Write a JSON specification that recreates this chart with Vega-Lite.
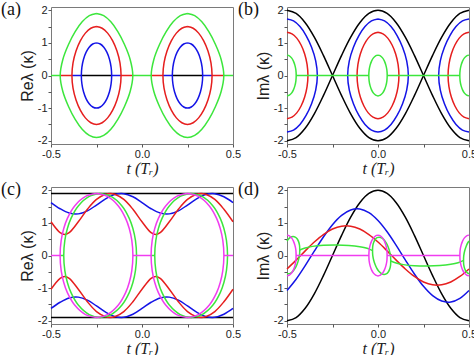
{
"$schema": "https://vega.github.io/schema/vega-lite/v6.json",
"padding": {"left": 0, "top": 0, "right": 0, "bottom": 0},
"columns": 2,
"bounds": "flush",
"spacing": {"row": 43, "column": 54},
"config": {
  "view": {"stroke": "#7a7a7a", "strokeWidth": 1},
  "axis": {"domain": false, "grid": false, "tickColor": "#555", "tickSize": 3, "labelFont": "Liberation Sans", "labelFontSize": 11, "labelColor": "#222", "labelPadding": 1, "labelOverlap": false, "labelFlush": false, "labelBound": false, "titleFontWeight": "normal", "titleColor": "#222", "titleFontSize": 16},
  "line": {"strokeWidth": 1.5, "interpolate": "catmull-rom"}
},
"datasets": {"d": [
{"p":"a","c":"1k","s":"1k-a1","o":0,"t":-0.3333,"y":0},{"p":"a","c":"1k","s":"1k-a1","o":1,"t":-0.1667,"y":0},
{"p":"a","c":"1k","s":"1k-a1b","o":0,"t":0.1667,"y":0},{"p":"a","c":"1k","s":"1k-a1b","o":1,"t":0.3333,"y":0},
{"p":"a","c":"2b","s":"2b-a2","o":0,"t":-0.385,"y":0},{"p":"a","c":"2b","s":"2b-a2","o":1,"t":-0.3333,"y":0},
{"p":"a","c":"2b","s":"2b-a3","o":0,"t":-0.1667,"y":0},{"p":"a","c":"2b","s":"2b-a3","o":1,"t":-0.115,"y":0},
{"p":"a","c":"2b","s":"2b-a4","o":0,"t":0.115,"y":0},{"p":"a","c":"2b","s":"2b-a4","o":1,"t":0.1667,"y":0},
{"p":"a","c":"2b","s":"2b-a4b","o":0,"t":0.3333,"y":0},{"p":"a","c":"2b","s":"2b-a4b","o":1,"t":0.385,"y":0},
{"p":"a","c":"2b","s":"2b-a5","o":0,"t":-0.25,"y":1},{"p":"a","c":"2b","s":"2b-a5","o":1,"t":-0.2293,"y":0.966},{"p":"a","c":"2b","s":"2b-a5","o":2,"t":-0.2098,"y":0.866},{"p":"a","c":"2b","s":"2b-a5","o":3,"t":-0.1925,"y":0.707},{"p":"a","c":"2b","s":"2b-a5","o":4,"t":-0.1787,"y":0.5},{"p":"a","c":"2b","s":"2b-a5","o":5,"t":-0.1698,"y":0.259},{"p":"a","c":"2b","s":"2b-a5","o":6,"t":-0.1667,"y":0},{"p":"a","c":"2b","s":"2b-a5","o":7,"t":-0.1698,"y":-0.259},{"p":"a","c":"2b","s":"2b-a5","o":8,"t":-0.1787,"y":-0.5},{"p":"a","c":"2b","s":"2b-a5","o":9,"t":-0.1925,"y":-0.707},{"p":"a","c":"2b","s":"2b-a5","o":10,"t":-0.2098,"y":-0.866},{"p":"a","c":"2b","s":"2b-a5","o":11,"t":-0.2293,"y":-0.966},{"p":"a","c":"2b","s":"2b-a5","o":12,"t":-0.25,"y":-1},{"p":"a","c":"2b","s":"2b-a5","o":13,"t":-0.2707,"y":-0.966},{"p":"a","c":"2b","s":"2b-a5","o":14,"t":-0.2902,"y":-0.866},{"p":"a","c":"2b","s":"2b-a5","o":15,"t":-0.3075,"y":-0.707},{"p":"a","c":"2b","s":"2b-a5","o":16,"t":-0.3213,"y":-0.5},{"p":"a","c":"2b","s":"2b-a5","o":17,"t":-0.3302,"y":-0.259},{"p":"a","c":"2b","s":"2b-a5","o":18,"t":-0.3333,"y":0},{"p":"a","c":"2b","s":"2b-a5","o":19,"t":-0.3302,"y":0.259},{"p":"a","c":"2b","s":"2b-a5","o":20,"t":-0.3213,"y":0.5},{"p":"a","c":"2b","s":"2b-a5","o":21,"t":-0.3075,"y":0.707},{"p":"a","c":"2b","s":"2b-a5","o":22,"t":-0.2902,"y":0.866},{"p":"a","c":"2b","s":"2b-a5","o":23,"t":-0.2707,"y":0.966},{"p":"a","c":"2b","s":"2b-a5","o":24,"t":-0.25,"y":1},
{"p":"a","c":"2b","s":"2b-a6","o":0,"t":0.25,"y":1},{"p":"a","c":"2b","s":"2b-a6","o":1,"t":0.2707,"y":0.966},{"p":"a","c":"2b","s":"2b-a6","o":2,"t":0.2902,"y":0.866},{"p":"a","c":"2b","s":"2b-a6","o":3,"t":0.3075,"y":0.707},{"p":"a","c":"2b","s":"2b-a6","o":4,"t":0.3213,"y":0.5},{"p":"a","c":"2b","s":"2b-a6","o":5,"t":0.3302,"y":0.259},{"p":"a","c":"2b","s":"2b-a6","o":6,"t":0.3333,"y":0},{"p":"a","c":"2b","s":"2b-a6","o":7,"t":0.3302,"y":-0.259},{"p":"a","c":"2b","s":"2b-a6","o":8,"t":0.3213,"y":-0.5},{"p":"a","c":"2b","s":"2b-a6","o":9,"t":0.3075,"y":-0.707},{"p":"a","c":"2b","s":"2b-a6","o":10,"t":0.2902,"y":-0.866},{"p":"a","c":"2b","s":"2b-a6","o":11,"t":0.2707,"y":-0.966},{"p":"a","c":"2b","s":"2b-a6","o":12,"t":0.25,"y":-1},{"p":"a","c":"2b","s":"2b-a6","o":13,"t":0.2293,"y":-0.966},{"p":"a","c":"2b","s":"2b-a6","o":14,"t":0.2098,"y":-0.866},{"p":"a","c":"2b","s":"2b-a6","o":15,"t":0.1925,"y":-0.707},{"p":"a","c":"2b","s":"2b-a6","o":16,"t":0.1787,"y":-0.5},{"p":"a","c":"2b","s":"2b-a6","o":17,"t":0.1698,"y":-0.259},{"p":"a","c":"2b","s":"2b-a6","o":18,"t":0.1667,"y":0},{"p":"a","c":"2b","s":"2b-a6","o":19,"t":0.1698,"y":0.259},{"p":"a","c":"2b","s":"2b-a6","o":20,"t":0.1787,"y":0.5},{"p":"a","c":"2b","s":"2b-a6","o":21,"t":0.1925,"y":0.707},{"p":"a","c":"2b","s":"2b-a6","o":22,"t":0.2098,"y":0.866},{"p":"a","c":"2b","s":"2b-a6","o":23,"t":0.2293,"y":0.966},{"p":"a","c":"2b","s":"2b-a6","o":24,"t":0.25,"y":1},
{"p":"a","c":"3r","s":"3r-a7","o":0,"t":-0.4495,"y":0},{"p":"a","c":"3r","s":"3r-a7","o":1,"t":-0.385,"y":0},
{"p":"a","c":"3r","s":"3r-a8","o":0,"t":-0.115,"y":0},{"p":"a","c":"3r","s":"3r-a8","o":1,"t":-0.0505,"y":0},
{"p":"a","c":"3r","s":"3r-a9","o":0,"t":0.0505,"y":0},{"p":"a","c":"3r","s":"3r-a9","o":1,"t":0.115,"y":0},
{"p":"a","c":"3r","s":"3r-a9b","o":0,"t":0.385,"y":0},{"p":"a","c":"3r","s":"3r-a9b","o":1,"t":0.4495,"y":0},
{"p":"a","c":"3r","s":"3r-a10","o":0,"t":-0.25,"y":1.5},{"p":"a","c":"3r","s":"3r-a10","o":1,"t":-0.2189,"y":1.449},{"p":"a","c":"3r","s":"3r-a10","o":2,"t":-0.1888,"y":1.299},{"p":"a","c":"3r","s":"3r-a10","o":3,"t":-0.161,"y":1.061},{"p":"a","c":"3r","s":"3r-a10","o":4,"t":-0.1375,"y":0.75},{"p":"a","c":"3r","s":"3r-a10","o":5,"t":-0.121,"y":0.388},{"p":"a","c":"3r","s":"3r-a10","o":6,"t":-0.115,"y":0},{"p":"a","c":"3r","s":"3r-a10","o":7,"t":-0.121,"y":-0.388},{"p":"a","c":"3r","s":"3r-a10","o":8,"t":-0.1375,"y":-0.75},{"p":"a","c":"3r","s":"3r-a10","o":9,"t":-0.161,"y":-1.061},{"p":"a","c":"3r","s":"3r-a10","o":10,"t":-0.1888,"y":-1.299},{"p":"a","c":"3r","s":"3r-a10","o":11,"t":-0.2189,"y":-1.449},{"p":"a","c":"3r","s":"3r-a10","o":12,"t":-0.25,"y":-1.5},{"p":"a","c":"3r","s":"3r-a10","o":13,"t":-0.2811,"y":-1.449},{"p":"a","c":"3r","s":"3r-a10","o":14,"t":-0.3112,"y":-1.299},{"p":"a","c":"3r","s":"3r-a10","o":15,"t":-0.339,"y":-1.061},{"p":"a","c":"3r","s":"3r-a10","o":16,"t":-0.3625,"y":-0.75},{"p":"a","c":"3r","s":"3r-a10","o":17,"t":-0.379,"y":-0.388},{"p":"a","c":"3r","s":"3r-a10","o":18,"t":-0.385,"y":0},{"p":"a","c":"3r","s":"3r-a10","o":19,"t":-0.379,"y":0.388},{"p":"a","c":"3r","s":"3r-a10","o":20,"t":-0.3625,"y":0.75},{"p":"a","c":"3r","s":"3r-a10","o":21,"t":-0.339,"y":1.061},{"p":"a","c":"3r","s":"3r-a10","o":22,"t":-0.3112,"y":1.299},{"p":"a","c":"3r","s":"3r-a10","o":23,"t":-0.2811,"y":1.449},{"p":"a","c":"3r","s":"3r-a10","o":24,"t":-0.25,"y":1.5},
{"p":"a","c":"3r","s":"3r-a11","o":0,"t":0.25,"y":1.5},{"p":"a","c":"3r","s":"3r-a11","o":1,"t":0.2811,"y":1.449},{"p":"a","c":"3r","s":"3r-a11","o":2,"t":0.3112,"y":1.299},{"p":"a","c":"3r","s":"3r-a11","o":3,"t":0.339,"y":1.061},{"p":"a","c":"3r","s":"3r-a11","o":4,"t":0.3625,"y":0.75},{"p":"a","c":"3r","s":"3r-a11","o":5,"t":0.379,"y":0.388},{"p":"a","c":"3r","s":"3r-a11","o":6,"t":0.385,"y":0},{"p":"a","c":"3r","s":"3r-a11","o":7,"t":0.379,"y":-0.388},{"p":"a","c":"3r","s":"3r-a11","o":8,"t":0.3625,"y":-0.75},{"p":"a","c":"3r","s":"3r-a11","o":9,"t":0.339,"y":-1.061},{"p":"a","c":"3r","s":"3r-a11","o":10,"t":0.3112,"y":-1.299},{"p":"a","c":"3r","s":"3r-a11","o":11,"t":0.2811,"y":-1.449},{"p":"a","c":"3r","s":"3r-a11","o":12,"t":0.25,"y":-1.5},{"p":"a","c":"3r","s":"3r-a11","o":13,"t":0.2189,"y":-1.449},{"p":"a","c":"3r","s":"3r-a11","o":14,"t":0.1888,"y":-1.299},{"p":"a","c":"3r","s":"3r-a11","o":15,"t":0.161,"y":-1.061},{"p":"a","c":"3r","s":"3r-a11","o":16,"t":0.1375,"y":-0.75},{"p":"a","c":"3r","s":"3r-a11","o":17,"t":0.121,"y":-0.388},{"p":"a","c":"3r","s":"3r-a11","o":18,"t":0.115,"y":0},{"p":"a","c":"3r","s":"3r-a11","o":19,"t":0.121,"y":0.388},{"p":"a","c":"3r","s":"3r-a11","o":20,"t":0.1375,"y":0.75},{"p":"a","c":"3r","s":"3r-a11","o":21,"t":0.161,"y":1.061},{"p":"a","c":"3r","s":"3r-a11","o":22,"t":0.1888,"y":1.299},{"p":"a","c":"3r","s":"3r-a11","o":23,"t":0.2189,"y":1.449},{"p":"a","c":"3r","s":"3r-a11","o":24,"t":0.25,"y":1.5},
{"p":"a","c":"4g","s":"4g-a12","o":0,"t":-0.5,"y":0},{"p":"a","c":"4g","s":"4g-a12","o":1,"t":-0.4495,"y":0},
{"p":"a","c":"4g","s":"4g-a13","o":0,"t":-0.0505,"y":0},{"p":"a","c":"4g","s":"4g-a13","o":1,"t":0.0505,"y":0},
{"p":"a","c":"4g","s":"4g-a14","o":0,"t":0.4495,"y":0},{"p":"a","c":"4g","s":"4g-a14","o":1,"t":0.5,"y":0},
{"p":"a","c":"4g","s":"4g-a15","o":0,"t":-0.25,"y":1.9},{"p":"a","c":"4g","s":"4g-a15","o":1,"t":-0.2104,"y":1.835},{"p":"a","c":"4g","s":"4g-a15","o":2,"t":-0.1712,"y":1.645},{"p":"a","c":"4g","s":"4g-a15","o":3,"t":-0.1328,"y":1.344},{"p":"a","c":"4g","s":"4g-a15","o":4,"t":-0.0962,"y":0.95},{"p":"a","c":"4g","s":"4g-a15","o":5,"t":-0.0651,"y":0.492},{"p":"a","c":"4g","s":"4g-a15","o":6,"t":-0.0505,"y":0},{"p":"a","c":"4g","s":"4g-a15","o":7,"t":-0.0651,"y":-0.492},{"p":"a","c":"4g","s":"4g-a15","o":8,"t":-0.0962,"y":-0.95},{"p":"a","c":"4g","s":"4g-a15","o":9,"t":-0.1328,"y":-1.344},{"p":"a","c":"4g","s":"4g-a15","o":10,"t":-0.1712,"y":-1.645},{"p":"a","c":"4g","s":"4g-a15","o":11,"t":-0.2104,"y":-1.835},{"p":"a","c":"4g","s":"4g-a15","o":12,"t":-0.25,"y":-1.9},{"p":"a","c":"4g","s":"4g-a15","o":13,"t":-0.2896,"y":-1.835},{"p":"a","c":"4g","s":"4g-a15","o":14,"t":-0.3288,"y":-1.645},{"p":"a","c":"4g","s":"4g-a15","o":15,"t":-0.3672,"y":-1.344},{"p":"a","c":"4g","s":"4g-a15","o":16,"t":-0.4038,"y":-0.95},{"p":"a","c":"4g","s":"4g-a15","o":17,"t":-0.4349,"y":-0.492},{"p":"a","c":"4g","s":"4g-a15","o":18,"t":-0.4495,"y":0},{"p":"a","c":"4g","s":"4g-a15","o":19,"t":-0.4349,"y":0.492},{"p":"a","c":"4g","s":"4g-a15","o":20,"t":-0.4038,"y":0.95},{"p":"a","c":"4g","s":"4g-a15","o":21,"t":-0.3672,"y":1.344},{"p":"a","c":"4g","s":"4g-a15","o":22,"t":-0.3288,"y":1.645},{"p":"a","c":"4g","s":"4g-a15","o":23,"t":-0.2896,"y":1.835},{"p":"a","c":"4g","s":"4g-a15","o":24,"t":-0.25,"y":1.9},
{"p":"a","c":"4g","s":"4g-a16","o":0,"t":0.25,"y":1.9},{"p":"a","c":"4g","s":"4g-a16","o":1,"t":0.2896,"y":1.835},{"p":"a","c":"4g","s":"4g-a16","o":2,"t":0.3288,"y":1.645},{"p":"a","c":"4g","s":"4g-a16","o":3,"t":0.3672,"y":1.344},{"p":"a","c":"4g","s":"4g-a16","o":4,"t":0.4038,"y":0.95},{"p":"a","c":"4g","s":"4g-a16","o":5,"t":0.4349,"y":0.492},{"p":"a","c":"4g","s":"4g-a16","o":6,"t":0.4495,"y":0},{"p":"a","c":"4g","s":"4g-a16","o":7,"t":0.4349,"y":-0.492},{"p":"a","c":"4g","s":"4g-a16","o":8,"t":0.4038,"y":-0.95},{"p":"a","c":"4g","s":"4g-a16","o":9,"t":0.3672,"y":-1.344},{"p":"a","c":"4g","s":"4g-a16","o":10,"t":0.3288,"y":-1.645},{"p":"a","c":"4g","s":"4g-a16","o":11,"t":0.2896,"y":-1.835},{"p":"a","c":"4g","s":"4g-a16","o":12,"t":0.25,"y":-1.9},{"p":"a","c":"4g","s":"4g-a16","o":13,"t":0.2104,"y":-1.835},{"p":"a","c":"4g","s":"4g-a16","o":14,"t":0.1712,"y":-1.645},{"p":"a","c":"4g","s":"4g-a16","o":15,"t":0.1328,"y":-1.344},{"p":"a","c":"4g","s":"4g-a16","o":16,"t":0.0962,"y":-0.95},{"p":"a","c":"4g","s":"4g-a16","o":17,"t":0.0651,"y":-0.492},{"p":"a","c":"4g","s":"4g-a16","o":18,"t":0.0505,"y":0},{"p":"a","c":"4g","s":"4g-a16","o":19,"t":0.0651,"y":0.492},{"p":"a","c":"4g","s":"4g-a16","o":20,"t":0.0962,"y":0.95},{"p":"a","c":"4g","s":"4g-a16","o":21,"t":0.1328,"y":1.344},{"p":"a","c":"4g","s":"4g-a16","o":22,"t":0.1712,"y":1.645},{"p":"a","c":"4g","s":"4g-a16","o":23,"t":0.2104,"y":1.835},{"p":"a","c":"4g","s":"4g-a16","o":24,"t":0.25,"y":1.9},

{"p":"b","c":"1k","s":"1k-b1","o":0,"t":-0.5,"y":-2},{"p":"b","c":"1k","s":"1k-b1","o":1,"t":-0.45,"y":-1.902},{"p":"b","c":"1k","s":"1k-b1","o":2,"t":-0.4,"y":-1.618},{"p":"b","c":"1k","s":"1k-b1","o":3,"t":-0.35,"y":-1.176},{"p":"b","c":"1k","s":"1k-b1","o":4,"t":-0.3,"y":-0.618},{"p":"b","c":"1k","s":"1k-b1","o":5,"t":-0.25,"y":0},{"p":"b","c":"1k","s":"1k-b1","o":6,"t":-0.2,"y":0.618},{"p":"b","c":"1k","s":"1k-b1","o":7,"t":-0.15,"y":1.176},{"p":"b","c":"1k","s":"1k-b1","o":8,"t":-0.1,"y":1.618},{"p":"b","c":"1k","s":"1k-b1","o":9,"t":-0.05,"y":1.902},{"p":"b","c":"1k","s":"1k-b1","o":10,"t":0,"y":2},{"p":"b","c":"1k","s":"1k-b1","o":11,"t":0.05,"y":1.902},{"p":"b","c":"1k","s":"1k-b1","o":12,"t":0.1,"y":1.618},{"p":"b","c":"1k","s":"1k-b1","o":13,"t":0.15,"y":1.176},{"p":"b","c":"1k","s":"1k-b1","o":14,"t":0.2,"y":0.618},{"p":"b","c":"1k","s":"1k-b1","o":15,"t":0.25,"y":0},{"p":"b","c":"1k","s":"1k-b1","o":16,"t":0.3,"y":-0.618},{"p":"b","c":"1k","s":"1k-b1","o":17,"t":0.35,"y":-1.176},{"p":"b","c":"1k","s":"1k-b1","o":18,"t":0.4,"y":-1.618},{"p":"b","c":"1k","s":"1k-b1","o":19,"t":0.45,"y":-1.902},{"p":"b","c":"1k","s":"1k-b1","o":20,"t":0.5,"y":-2},
{"p":"b","c":"1k","s":"1k-b2","o":0,"t":-0.5,"y":2},{"p":"b","c":"1k","s":"1k-b2","o":1,"t":-0.45,"y":1.902},{"p":"b","c":"1k","s":"1k-b2","o":2,"t":-0.4,"y":1.618},{"p":"b","c":"1k","s":"1k-b2","o":3,"t":-0.35,"y":1.176},{"p":"b","c":"1k","s":"1k-b2","o":4,"t":-0.3,"y":0.618},{"p":"b","c":"1k","s":"1k-b2","o":5,"t":-0.25,"y":0},{"p":"b","c":"1k","s":"1k-b2","o":6,"t":-0.2,"y":-0.618},{"p":"b","c":"1k","s":"1k-b2","o":7,"t":-0.15,"y":-1.176},{"p":"b","c":"1k","s":"1k-b2","o":8,"t":-0.1,"y":-1.618},{"p":"b","c":"1k","s":"1k-b2","o":9,"t":-0.05,"y":-1.902},{"p":"b","c":"1k","s":"1k-b2","o":10,"t":0,"y":-2},{"p":"b","c":"1k","s":"1k-b2","o":11,"t":0.05,"y":-1.902},{"p":"b","c":"1k","s":"1k-b2","o":12,"t":0.1,"y":-1.618},{"p":"b","c":"1k","s":"1k-b2","o":13,"t":0.15,"y":-1.176},{"p":"b","c":"1k","s":"1k-b2","o":14,"t":0.2,"y":-0.618},{"p":"b","c":"1k","s":"1k-b2","o":15,"t":0.25,"y":0},{"p":"b","c":"1k","s":"1k-b2","o":16,"t":0.3,"y":0.618},{"p":"b","c":"1k","s":"1k-b2","o":17,"t":0.35,"y":1.176},{"p":"b","c":"1k","s":"1k-b2","o":18,"t":0.4,"y":1.618},{"p":"b","c":"1k","s":"1k-b2","o":19,"t":0.45,"y":1.902},{"p":"b","c":"1k","s":"1k-b2","o":20,"t":0.5,"y":2},
{"p":"b","c":"2b","s":"2b-b3","o":0,"t":0,"y":1.732},{"p":"b","c":"2b","s":"2b-b3","o":1,"t":0.036,"y":1.673},{"p":"b","c":"2b","s":"2b-b3","o":2,"t":0.0713,"y":1.5},{"p":"b","c":"2b","s":"2b-b3","o":3,"t":0.1049,"y":1.225},{"p":"b","c":"2b","s":"2b-b3","o":4,"t":0.135,"y":0.866},{"p":"b","c":"2b","s":"2b-b3","o":5,"t":0.1577,"y":0.448},{"p":"b","c":"2b","s":"2b-b3","o":6,"t":0.1667,"y":0},{"p":"b","c":"2b","s":"2b-b3","o":7,"t":0.1577,"y":-0.448},{"p":"b","c":"2b","s":"2b-b3","o":8,"t":0.135,"y":-0.866},{"p":"b","c":"2b","s":"2b-b3","o":9,"t":0.1049,"y":-1.225},{"p":"b","c":"2b","s":"2b-b3","o":10,"t":0.0713,"y":-1.5},{"p":"b","c":"2b","s":"2b-b3","o":11,"t":0.036,"y":-1.673},{"p":"b","c":"2b","s":"2b-b3","o":12,"t":0,"y":-1.732},{"p":"b","c":"2b","s":"2b-b3","o":13,"t":-0.036,"y":-1.673},{"p":"b","c":"2b","s":"2b-b3","o":14,"t":-0.0713,"y":-1.5},{"p":"b","c":"2b","s":"2b-b3","o":15,"t":-0.1049,"y":-1.225},{"p":"b","c":"2b","s":"2b-b3","o":16,"t":-0.135,"y":-0.866},{"p":"b","c":"2b","s":"2b-b3","o":17,"t":-0.1577,"y":-0.448},{"p":"b","c":"2b","s":"2b-b3","o":18,"t":-0.1667,"y":0},{"p":"b","c":"2b","s":"2b-b3","o":19,"t":-0.1577,"y":0.448},{"p":"b","c":"2b","s":"2b-b3","o":20,"t":-0.135,"y":0.866},{"p":"b","c":"2b","s":"2b-b3","o":21,"t":-0.1049,"y":1.225},{"p":"b","c":"2b","s":"2b-b3","o":22,"t":-0.0713,"y":1.5},{"p":"b","c":"2b","s":"2b-b3","o":23,"t":-0.036,"y":1.673},{"p":"b","c":"2b","s":"2b-b3","o":24,"t":0,"y":1.732},
{"p":"b","c":"2b","s":"2b-b4","o":0,"t":0.5,"y":1.732},{"p":"b","c":"2b","s":"2b-b4","o":1,"t":0.464,"y":1.673},{"p":"b","c":"2b","s":"2b-b4","o":2,"t":0.4287,"y":1.5},{"p":"b","c":"2b","s":"2b-b4","o":3,"t":0.3951,"y":1.225},{"p":"b","c":"2b","s":"2b-b4","o":4,"t":0.365,"y":0.866},{"p":"b","c":"2b","s":"2b-b4","o":5,"t":0.3423,"y":0.448},{"p":"b","c":"2b","s":"2b-b4","o":6,"t":0.3333,"y":0},{"p":"b","c":"2b","s":"2b-b4","o":7,"t":0.3423,"y":-0.448},{"p":"b","c":"2b","s":"2b-b4","o":8,"t":0.365,"y":-0.866},{"p":"b","c":"2b","s":"2b-b4","o":9,"t":0.3951,"y":-1.225},{"p":"b","c":"2b","s":"2b-b4","o":10,"t":0.4287,"y":-1.5},{"p":"b","c":"2b","s":"2b-b4","o":11,"t":0.464,"y":-1.673},{"p":"b","c":"2b","s":"2b-b4","o":12,"t":0.5,"y":-1.732},
{"p":"b","c":"2b","s":"2b-b5","o":0,"t":-0.5,"y":1.732},{"p":"b","c":"2b","s":"2b-b5","o":1,"t":-0.464,"y":1.673},{"p":"b","c":"2b","s":"2b-b5","o":2,"t":-0.4287,"y":1.5},{"p":"b","c":"2b","s":"2b-b5","o":3,"t":-0.3951,"y":1.225},{"p":"b","c":"2b","s":"2b-b5","o":4,"t":-0.365,"y":0.866},{"p":"b","c":"2b","s":"2b-b5","o":5,"t":-0.3423,"y":0.448},{"p":"b","c":"2b","s":"2b-b5","o":6,"t":-0.3333,"y":0},{"p":"b","c":"2b","s":"2b-b5","o":7,"t":-0.3423,"y":-0.448},{"p":"b","c":"2b","s":"2b-b5","o":8,"t":-0.365,"y":-0.866},{"p":"b","c":"2b","s":"2b-b5","o":9,"t":-0.3951,"y":-1.225},{"p":"b","c":"2b","s":"2b-b5","o":10,"t":-0.4287,"y":-1.5},{"p":"b","c":"2b","s":"2b-b5","o":11,"t":-0.464,"y":-1.673},{"p":"b","c":"2b","s":"2b-b5","o":12,"t":-0.5,"y":-1.732},
{"p":"b","c":"3r","s":"3r-b8","o":0,"t":0,"y":1.323},{"p":"b","c":"3r","s":"3r-b8","o":1,"t":0.0274,"y":1.278},{"p":"b","c":"3r","s":"3r-b8","o":2,"t":0.0536,"y":1.146},{"p":"b","c":"3r","s":"3r-b8","o":3,"t":0.0774,"y":0.935},{"p":"b","c":"3r","s":"3r-b8","o":4,"t":0.0971,"y":0.661},{"p":"b","c":"3r","s":"3r-b8","o":5,"t":0.1103,"y":0.342},{"p":"b","c":"3r","s":"3r-b8","o":6,"t":0.115,"y":0},{"p":"b","c":"3r","s":"3r-b8","o":7,"t":0.1103,"y":-0.342},{"p":"b","c":"3r","s":"3r-b8","o":8,"t":0.0971,"y":-0.661},{"p":"b","c":"3r","s":"3r-b8","o":9,"t":0.0774,"y":-0.935},{"p":"b","c":"3r","s":"3r-b8","o":10,"t":0.0536,"y":-1.146},{"p":"b","c":"3r","s":"3r-b8","o":11,"t":0.0274,"y":-1.278},{"p":"b","c":"3r","s":"3r-b8","o":12,"t":0,"y":-1.323},{"p":"b","c":"3r","s":"3r-b8","o":13,"t":-0.0274,"y":-1.278},{"p":"b","c":"3r","s":"3r-b8","o":14,"t":-0.0536,"y":-1.146},{"p":"b","c":"3r","s":"3r-b8","o":15,"t":-0.0774,"y":-0.935},{"p":"b","c":"3r","s":"3r-b8","o":16,"t":-0.0971,"y":-0.661},{"p":"b","c":"3r","s":"3r-b8","o":17,"t":-0.1103,"y":-0.342},{"p":"b","c":"3r","s":"3r-b8","o":18,"t":-0.115,"y":0},{"p":"b","c":"3r","s":"3r-b8","o":19,"t":-0.1103,"y":0.342},{"p":"b","c":"3r","s":"3r-b8","o":20,"t":-0.0971,"y":0.661},{"p":"b","c":"3r","s":"3r-b8","o":21,"t":-0.0774,"y":0.935},{"p":"b","c":"3r","s":"3r-b8","o":22,"t":-0.0536,"y":1.146},{"p":"b","c":"3r","s":"3r-b8","o":23,"t":-0.0274,"y":1.278},{"p":"b","c":"3r","s":"3r-b8","o":24,"t":0,"y":1.323},
{"p":"b","c":"3r","s":"3r-b9","o":0,"t":0.5,"y":1.323},{"p":"b","c":"3r","s":"3r-b9","o":1,"t":0.4726,"y":1.278},{"p":"b","c":"3r","s":"3r-b9","o":2,"t":0.4464,"y":1.146},{"p":"b","c":"3r","s":"3r-b9","o":3,"t":0.4226,"y":0.935},{"p":"b","c":"3r","s":"3r-b9","o":4,"t":0.4029,"y":0.661},{"p":"b","c":"3r","s":"3r-b9","o":5,"t":0.3897,"y":0.342},{"p":"b","c":"3r","s":"3r-b9","o":6,"t":0.385,"y":0},{"p":"b","c":"3r","s":"3r-b9","o":7,"t":0.3897,"y":-0.342},{"p":"b","c":"3r","s":"3r-b9","o":8,"t":0.4029,"y":-0.661},{"p":"b","c":"3r","s":"3r-b9","o":9,"t":0.4226,"y":-0.935},{"p":"b","c":"3r","s":"3r-b9","o":10,"t":0.4464,"y":-1.146},{"p":"b","c":"3r","s":"3r-b9","o":11,"t":0.4726,"y":-1.278},{"p":"b","c":"3r","s":"3r-b9","o":12,"t":0.5,"y":-1.323},
{"p":"b","c":"3r","s":"3r-b10","o":0,"t":-0.5,"y":1.323},{"p":"b","c":"3r","s":"3r-b10","o":1,"t":-0.4726,"y":1.278},{"p":"b","c":"3r","s":"3r-b10","o":2,"t":-0.4464,"y":1.146},{"p":"b","c":"3r","s":"3r-b10","o":3,"t":-0.4226,"y":0.935},{"p":"b","c":"3r","s":"3r-b10","o":4,"t":-0.4029,"y":0.661},{"p":"b","c":"3r","s":"3r-b10","o":5,"t":-0.3897,"y":0.342},{"p":"b","c":"3r","s":"3r-b10","o":6,"t":-0.385,"y":0},{"p":"b","c":"3r","s":"3r-b10","o":7,"t":-0.3897,"y":-0.342},{"p":"b","c":"3r","s":"3r-b10","o":8,"t":-0.4029,"y":-0.661},{"p":"b","c":"3r","s":"3r-b10","o":9,"t":-0.4226,"y":-0.935},{"p":"b","c":"3r","s":"3r-b10","o":10,"t":-0.4464,"y":-1.146},{"p":"b","c":"3r","s":"3r-b10","o":11,"t":-0.4726,"y":-1.278},{"p":"b","c":"3r","s":"3r-b10","o":12,"t":-0.5,"y":-1.323},
{"p":"b","c":"4g","s":"4g-b13","o":0,"t":0,"y":0.625},{"p":"b","c":"4g","s":"4g-b13","o":1,"t":0.0129,"y":0.603},{"p":"b","c":"4g","s":"4g-b13","o":2,"t":0.025,"y":0.541},{"p":"b","c":"4g","s":"4g-b13","o":3,"t":0.0354,"y":0.442},{"p":"b","c":"4g","s":"4g-b13","o":4,"t":0.0436,"y":0.312},{"p":"b","c":"4g","s":"4g-b13","o":5,"t":0.0488,"y":0.162},{"p":"b","c":"4g","s":"4g-b13","o":6,"t":0.0505,"y":0},{"p":"b","c":"4g","s":"4g-b13","o":7,"t":0.0488,"y":-0.162},{"p":"b","c":"4g","s":"4g-b13","o":8,"t":0.0436,"y":-0.312},{"p":"b","c":"4g","s":"4g-b13","o":9,"t":0.0354,"y":-0.442},{"p":"b","c":"4g","s":"4g-b13","o":10,"t":0.025,"y":-0.541},{"p":"b","c":"4g","s":"4g-b13","o":11,"t":0.0129,"y":-0.603},{"p":"b","c":"4g","s":"4g-b13","o":12,"t":0,"y":-0.625},{"p":"b","c":"4g","s":"4g-b13","o":13,"t":-0.0129,"y":-0.603},{"p":"b","c":"4g","s":"4g-b13","o":14,"t":-0.025,"y":-0.541},{"p":"b","c":"4g","s":"4g-b13","o":15,"t":-0.0354,"y":-0.442},{"p":"b","c":"4g","s":"4g-b13","o":16,"t":-0.0436,"y":-0.312},{"p":"b","c":"4g","s":"4g-b13","o":17,"t":-0.0488,"y":-0.162},{"p":"b","c":"4g","s":"4g-b13","o":18,"t":-0.0505,"y":0},{"p":"b","c":"4g","s":"4g-b13","o":19,"t":-0.0488,"y":0.162},{"p":"b","c":"4g","s":"4g-b13","o":20,"t":-0.0436,"y":0.312},{"p":"b","c":"4g","s":"4g-b13","o":21,"t":-0.0354,"y":0.442},{"p":"b","c":"4g","s":"4g-b13","o":22,"t":-0.025,"y":0.541},{"p":"b","c":"4g","s":"4g-b13","o":23,"t":-0.0129,"y":0.603},{"p":"b","c":"4g","s":"4g-b13","o":24,"t":0,"y":0.625},
{"p":"b","c":"4g","s":"4g-b14","o":0,"t":0.5,"y":0.625},{"p":"b","c":"4g","s":"4g-b14","o":1,"t":0.4871,"y":0.603},{"p":"b","c":"4g","s":"4g-b14","o":2,"t":0.475,"y":0.541},{"p":"b","c":"4g","s":"4g-b14","o":3,"t":0.4646,"y":0.442},{"p":"b","c":"4g","s":"4g-b14","o":4,"t":0.4564,"y":0.312},{"p":"b","c":"4g","s":"4g-b14","o":5,"t":0.4512,"y":0.162},{"p":"b","c":"4g","s":"4g-b14","o":6,"t":0.4495,"y":0},{"p":"b","c":"4g","s":"4g-b14","o":7,"t":0.4512,"y":-0.162},{"p":"b","c":"4g","s":"4g-b14","o":8,"t":0.4564,"y":-0.312},{"p":"b","c":"4g","s":"4g-b14","o":9,"t":0.4646,"y":-0.442},{"p":"b","c":"4g","s":"4g-b14","o":10,"t":0.475,"y":-0.541},{"p":"b","c":"4g","s":"4g-b14","o":11,"t":0.4871,"y":-0.603},{"p":"b","c":"4g","s":"4g-b14","o":12,"t":0.5,"y":-0.625},
{"p":"b","c":"4g","s":"4g-b15","o":0,"t":-0.5,"y":0.625},{"p":"b","c":"4g","s":"4g-b15","o":1,"t":-0.4871,"y":0.603},{"p":"b","c":"4g","s":"4g-b15","o":2,"t":-0.475,"y":0.541},{"p":"b","c":"4g","s":"4g-b15","o":3,"t":-0.4646,"y":0.442},{"p":"b","c":"4g","s":"4g-b15","o":4,"t":-0.4564,"y":0.312},{"p":"b","c":"4g","s":"4g-b15","o":5,"t":-0.4512,"y":0.162},{"p":"b","c":"4g","s":"4g-b15","o":6,"t":-0.4495,"y":0},{"p":"b","c":"4g","s":"4g-b15","o":7,"t":-0.4512,"y":-0.162},{"p":"b","c":"4g","s":"4g-b15","o":8,"t":-0.4564,"y":-0.312},{"p":"b","c":"4g","s":"4g-b15","o":9,"t":-0.4646,"y":-0.442},{"p":"b","c":"4g","s":"4g-b15","o":10,"t":-0.475,"y":-0.541},{"p":"b","c":"4g","s":"4g-b15","o":11,"t":-0.4871,"y":-0.603},{"p":"b","c":"4g","s":"4g-b15","o":12,"t":-0.5,"y":-0.625},
{"p":"b","c":"4g","s":"4g-b16","o":0,"t":-0.4495,"y":0},{"p":"b","c":"4g","s":"4g-b16","o":1,"t":-0.0505,"y":0},
{"p":"b","c":"4g","s":"4g-b17","o":0,"t":0.0505,"y":0},{"p":"b","c":"4g","s":"4g-b17","o":1,"t":0.4495,"y":0},

{"p":"c","c":"1k","s":"1k-c1","o":0,"t":-0.5,"y":1.9},{"p":"c","c":"1k","s":"1k-c1","o":1,"t":0.5,"y":1.9},
{"p":"c","c":"1k","s":"1k-c2","o":0,"t":-0.5,"y":-1.9},{"p":"c","c":"1k","s":"1k-c2","o":1,"t":0.5,"y":-1.9},
{"p":"c","c":"2b","s":"2b-c3","o":0,"t":-0.5,"y":1.624},{"p":"c","c":"2b","s":"2b-c3","o":1,"t":-0.45,"y":1.433},{"p":"c","c":"2b","s":"2b-c3","o":2,"t":-0.4,"y":1.3},{"p":"c","c":"2b","s":"2b-c3","o":3,"t":-0.35,"y":1.276},{"p":"c","c":"2b","s":"2b-c3","o":4,"t":-0.3,"y":1.369},{"p":"c","c":"2b","s":"2b-c3","o":5,"t":-0.25,"y":1.546},{"p":"c","c":"2b","s":"2b-c3","o":6,"t":-0.2,"y":1.737},{"p":"c","c":"2b","s":"2b-c3","o":7,"t":-0.15,"y":1.87},{"p":"c","c":"2b","s":"2b-c3","o":8,"t":-0.1,"y":1.894},{"p":"c","c":"2b","s":"2b-c3","o":9,"t":-0.05,"y":1.801},{"p":"c","c":"2b","s":"2b-c3","o":10,"t":0,"y":1.624},{"p":"c","c":"2b","s":"2b-c3","o":11,"t":0.05,"y":1.433},{"p":"c","c":"2b","s":"2b-c3","o":12,"t":0.1,"y":1.3},{"p":"c","c":"2b","s":"2b-c3","o":13,"t":0.15,"y":1.276},{"p":"c","c":"2b","s":"2b-c3","o":14,"t":0.2,"y":1.369},{"p":"c","c":"2b","s":"2b-c3","o":15,"t":0.25,"y":1.546},{"p":"c","c":"2b","s":"2b-c3","o":16,"t":0.3,"y":1.737},{"p":"c","c":"2b","s":"2b-c3","o":17,"t":0.35,"y":1.87},{"p":"c","c":"2b","s":"2b-c3","o":18,"t":0.4,"y":1.894},{"p":"c","c":"2b","s":"2b-c3","o":19,"t":0.45,"y":1.801},{"p":"c","c":"2b","s":"2b-c3","o":20,"t":0.5,"y":1.624},
{"p":"c","c":"2b","s":"2b-c4","o":0,"t":-0.5,"y":-1.624},{"p":"c","c":"2b","s":"2b-c4","o":1,"t":-0.45,"y":-1.433},{"p":"c","c":"2b","s":"2b-c4","o":2,"t":-0.4,"y":-1.3},{"p":"c","c":"2b","s":"2b-c4","o":3,"t":-0.35,"y":-1.276},{"p":"c","c":"2b","s":"2b-c4","o":4,"t":-0.3,"y":-1.369},{"p":"c","c":"2b","s":"2b-c4","o":5,"t":-0.25,"y":-1.546},{"p":"c","c":"2b","s":"2b-c4","o":6,"t":-0.2,"y":-1.737},{"p":"c","c":"2b","s":"2b-c4","o":7,"t":-0.15,"y":-1.87},{"p":"c","c":"2b","s":"2b-c4","o":8,"t":-0.1,"y":-1.894},{"p":"c","c":"2b","s":"2b-c4","o":9,"t":-0.05,"y":-1.801},{"p":"c","c":"2b","s":"2b-c4","o":10,"t":0,"y":-1.624},{"p":"c","c":"2b","s":"2b-c4","o":11,"t":0.05,"y":-1.433},{"p":"c","c":"2b","s":"2b-c4","o":12,"t":0.1,"y":-1.3},{"p":"c","c":"2b","s":"2b-c4","o":13,"t":0.15,"y":-1.276},{"p":"c","c":"2b","s":"2b-c4","o":14,"t":0.2,"y":-1.369},{"p":"c","c":"2b","s":"2b-c4","o":15,"t":0.25,"y":-1.546},{"p":"c","c":"2b","s":"2b-c4","o":16,"t":0.3,"y":-1.737},{"p":"c","c":"2b","s":"2b-c4","o":17,"t":0.35,"y":-1.87},{"p":"c","c":"2b","s":"2b-c4","o":18,"t":0.4,"y":-1.894},{"p":"c","c":"2b","s":"2b-c4","o":19,"t":0.45,"y":-1.801},{"p":"c","c":"2b","s":"2b-c4","o":20,"t":0.5,"y":-1.624},
{"p":"c","c":"3r","s":"3r-c5","o":0,"t":-0.5,"y":1.034},{"p":"c","c":"3r","s":"3r-c5","o":1,"t":-0.45,"y":0.699},{"p":"c","c":"3r","s":"3r-c5","o":2,"t":-0.425,"y":0.64},{"p":"c","c":"3r","s":"3r-c5","o":3,"t":-0.4,"y":0.699},{"p":"c","c":"3r","s":"3r-c5","o":4,"t":-0.35,"y":1.034},{"p":"c","c":"3r","s":"3r-c5","o":5,"t":-0.3,"y":1.418},{"p":"c","c":"3r","s":"3r-c5","o":6,"t":-0.25,"y":1.718},{"p":"c","c":"3r","s":"3r-c5","o":7,"t":-0.2,"y":1.879},{"p":"c","c":"3r","s":"3r-c5","o":8,"t":-0.175,"y":1.9},{"p":"c","c":"3r","s":"3r-c5","o":9,"t":-0.15,"y":1.879},{"p":"c","c":"3r","s":"3r-c5","o":10,"t":-0.1,"y":1.718},{"p":"c","c":"3r","s":"3r-c5","o":11,"t":-0.05,"y":1.418},{"p":"c","c":"3r","s":"3r-c5","o":12,"t":0,"y":1.034},{"p":"c","c":"3r","s":"3r-c5","o":13,"t":0.05,"y":0.699},{"p":"c","c":"3r","s":"3r-c5","o":14,"t":0.075,"y":0.64},{"p":"c","c":"3r","s":"3r-c5","o":15,"t":0.1,"y":0.699},{"p":"c","c":"3r","s":"3r-c5","o":16,"t":0.15,"y":1.034},{"p":"c","c":"3r","s":"3r-c5","o":17,"t":0.2,"y":1.418},{"p":"c","c":"3r","s":"3r-c5","o":18,"t":0.25,"y":1.718},{"p":"c","c":"3r","s":"3r-c5","o":19,"t":0.3,"y":1.879},{"p":"c","c":"3r","s":"3r-c5","o":20,"t":0.325,"y":1.9},{"p":"c","c":"3r","s":"3r-c5","o":21,"t":0.35,"y":1.879},{"p":"c","c":"3r","s":"3r-c5","o":22,"t":0.4,"y":1.718},{"p":"c","c":"3r","s":"3r-c5","o":23,"t":0.45,"y":1.418},{"p":"c","c":"3r","s":"3r-c5","o":24,"t":0.5,"y":1.034},
{"p":"c","c":"3r","s":"3r-c6","o":0,"t":-0.5,"y":-1.034},{"p":"c","c":"3r","s":"3r-c6","o":1,"t":-0.45,"y":-0.699},{"p":"c","c":"3r","s":"3r-c6","o":2,"t":-0.425,"y":-0.64},{"p":"c","c":"3r","s":"3r-c6","o":3,"t":-0.4,"y":-0.699},{"p":"c","c":"3r","s":"3r-c6","o":4,"t":-0.35,"y":-1.034},{"p":"c","c":"3r","s":"3r-c6","o":5,"t":-0.3,"y":-1.418},{"p":"c","c":"3r","s":"3r-c6","o":6,"t":-0.25,"y":-1.718},{"p":"c","c":"3r","s":"3r-c6","o":7,"t":-0.2,"y":-1.879},{"p":"c","c":"3r","s":"3r-c6","o":8,"t":-0.175,"y":-1.9},{"p":"c","c":"3r","s":"3r-c6","o":9,"t":-0.15,"y":-1.879},{"p":"c","c":"3r","s":"3r-c6","o":10,"t":-0.1,"y":-1.718},{"p":"c","c":"3r","s":"3r-c6","o":11,"t":-0.05,"y":-1.418},{"p":"c","c":"3r","s":"3r-c6","o":12,"t":0,"y":-1.034},{"p":"c","c":"3r","s":"3r-c6","o":13,"t":0.05,"y":-0.699},{"p":"c","c":"3r","s":"3r-c6","o":14,"t":0.075,"y":-0.64},{"p":"c","c":"3r","s":"3r-c6","o":15,"t":0.1,"y":-0.699},{"p":"c","c":"3r","s":"3r-c6","o":16,"t":0.15,"y":-1.034},{"p":"c","c":"3r","s":"3r-c6","o":17,"t":0.2,"y":-1.418},{"p":"c","c":"3r","s":"3r-c6","o":18,"t":0.25,"y":-1.718},{"p":"c","c":"3r","s":"3r-c6","o":19,"t":0.3,"y":-1.879},{"p":"c","c":"3r","s":"3r-c6","o":20,"t":0.325,"y":-1.9},{"p":"c","c":"3r","s":"3r-c6","o":21,"t":0.35,"y":-1.879},{"p":"c","c":"3r","s":"3r-c6","o":22,"t":0.4,"y":-1.718},{"p":"c","c":"3r","s":"3r-c6","o":23,"t":0.45,"y":-1.418},{"p":"c","c":"3r","s":"3r-c6","o":24,"t":0.5,"y":-1.034},
{"p":"c","c":"4g","s":"4g-c7","o":0,"t":-0.23,"y":1.9},{"p":"c","c":"4g","s":"4g-c7","o":1,"t":-0.17,"y":1.812},{"p":"c","c":"4g","s":"4g-c7","o":2,"t":-0.11,"y":1.52},{"p":"c","c":"4g","s":"4g-c7","o":3,"t":-0.07,"y":1.14},{"p":"c","c":"4g","s":"4g-c7","o":4,"t":-0.05,"y":0.828},{"p":"c","c":"4g","s":"4g-c7","o":5,"t":-0.036,"y":0.462},{"p":"c","c":"4g","s":"4g-c7","o":6,"t":-0.03,"y":0},{"p":"c","c":"4g","s":"4g-c7","o":7,"t":-0.036,"y":-0.462},{"p":"c","c":"4g","s":"4g-c7","o":8,"t":-0.05,"y":-0.828},{"p":"c","c":"4g","s":"4g-c7","o":9,"t":-0.07,"y":-1.14},{"p":"c","c":"4g","s":"4g-c7","o":10,"t":-0.11,"y":-1.52},{"p":"c","c":"4g","s":"4g-c7","o":11,"t":-0.17,"y":-1.812},{"p":"c","c":"4g","s":"4g-c7","o":12,"t":-0.23,"y":-1.9},{"p":"c","c":"4g","s":"4g-c7","o":13,"t":-0.29,"y":-1.812},{"p":"c","c":"4g","s":"4g-c7","o":14,"t":-0.35,"y":-1.52},{"p":"c","c":"4g","s":"4g-c7","o":15,"t":-0.39,"y":-1.14},{"p":"c","c":"4g","s":"4g-c7","o":16,"t":-0.41,"y":-0.828},{"p":"c","c":"4g","s":"4g-c7","o":17,"t":-0.424,"y":-0.462},{"p":"c","c":"4g","s":"4g-c7","o":18,"t":-0.43,"y":0},{"p":"c","c":"4g","s":"4g-c7","o":19,"t":-0.424,"y":0.462},{"p":"c","c":"4g","s":"4g-c7","o":20,"t":-0.41,"y":0.828},{"p":"c","c":"4g","s":"4g-c7","o":21,"t":-0.39,"y":1.14},{"p":"c","c":"4g","s":"4g-c7","o":22,"t":-0.35,"y":1.52},{"p":"c","c":"4g","s":"4g-c7","o":23,"t":-0.29,"y":1.812},{"p":"c","c":"4g","s":"4g-c7","o":24,"t":-0.23,"y":1.9},
{"p":"c","c":"4g","s":"4g-c8","o":0,"t":0.27,"y":1.9},{"p":"c","c":"4g","s":"4g-c8","o":1,"t":0.33,"y":1.812},{"p":"c","c":"4g","s":"4g-c8","o":2,"t":0.39,"y":1.52},{"p":"c","c":"4g","s":"4g-c8","o":3,"t":0.43,"y":1.14},{"p":"c","c":"4g","s":"4g-c8","o":4,"t":0.45,"y":0.828},{"p":"c","c":"4g","s":"4g-c8","o":5,"t":0.464,"y":0.462},{"p":"c","c":"4g","s":"4g-c8","o":6,"t":0.47,"y":0},{"p":"c","c":"4g","s":"4g-c8","o":7,"t":0.464,"y":-0.462},{"p":"c","c":"4g","s":"4g-c8","o":8,"t":0.45,"y":-0.828},{"p":"c","c":"4g","s":"4g-c8","o":9,"t":0.43,"y":-1.14},{"p":"c","c":"4g","s":"4g-c8","o":10,"t":0.39,"y":-1.52},{"p":"c","c":"4g","s":"4g-c8","o":11,"t":0.33,"y":-1.812},{"p":"c","c":"4g","s":"4g-c8","o":12,"t":0.27,"y":-1.9},{"p":"c","c":"4g","s":"4g-c8","o":13,"t":0.21,"y":-1.812},{"p":"c","c":"4g","s":"4g-c8","o":14,"t":0.15,"y":-1.52},{"p":"c","c":"4g","s":"4g-c8","o":15,"t":0.11,"y":-1.14},{"p":"c","c":"4g","s":"4g-c8","o":16,"t":0.09,"y":-0.828},{"p":"c","c":"4g","s":"4g-c8","o":17,"t":0.076,"y":-0.462},{"p":"c","c":"4g","s":"4g-c8","o":18,"t":0.07,"y":0},{"p":"c","c":"4g","s":"4g-c8","o":19,"t":0.076,"y":0.462},{"p":"c","c":"4g","s":"4g-c8","o":20,"t":0.09,"y":0.828},{"p":"c","c":"4g","s":"4g-c8","o":21,"t":0.11,"y":1.14},{"p":"c","c":"4g","s":"4g-c8","o":22,"t":0.15,"y":1.52},{"p":"c","c":"4g","s":"4g-c8","o":23,"t":0.21,"y":1.812},{"p":"c","c":"4g","s":"4g-c8","o":24,"t":0.27,"y":1.9},
{"p":"c","c":"4g","s":"4g-c9","o":0,"t":-0.45,"y":0},{"p":"c","c":"4g","s":"4g-c9","o":1,"t":-0.43,"y":0},
{"p":"c","c":"4g","s":"4g-c10","o":0,"t":0.05,"y":0},{"p":"c","c":"4g","s":"4g-c10","o":1,"t":0.07,"y":0},
{"p":"c","c":"5m","s":"5m-c12","o":0,"t":-0.25,"y":1.9},{"p":"c","c":"5m","s":"5m-c12","o":1,"t":-0.19,"y":1.812},{"p":"c","c":"5m","s":"5m-c12","o":2,"t":-0.13,"y":1.52},{"p":"c","c":"5m","s":"5m-c12","o":3,"t":-0.09,"y":1.14},{"p":"c","c":"5m","s":"5m-c12","o":4,"t":-0.07,"y":0.828},{"p":"c","c":"5m","s":"5m-c12","o":5,"t":-0.056,"y":0.462},{"p":"c","c":"5m","s":"5m-c12","o":6,"t":-0.05,"y":0},{"p":"c","c":"5m","s":"5m-c12","o":7,"t":-0.056,"y":-0.462},{"p":"c","c":"5m","s":"5m-c12","o":8,"t":-0.07,"y":-0.828},{"p":"c","c":"5m","s":"5m-c12","o":9,"t":-0.09,"y":-1.14},{"p":"c","c":"5m","s":"5m-c12","o":10,"t":-0.13,"y":-1.52},{"p":"c","c":"5m","s":"5m-c12","o":11,"t":-0.19,"y":-1.812},{"p":"c","c":"5m","s":"5m-c12","o":12,"t":-0.25,"y":-1.9},{"p":"c","c":"5m","s":"5m-c12","o":13,"t":-0.31,"y":-1.812},{"p":"c","c":"5m","s":"5m-c12","o":14,"t":-0.37,"y":-1.52},{"p":"c","c":"5m","s":"5m-c12","o":15,"t":-0.41,"y":-1.14},{"p":"c","c":"5m","s":"5m-c12","o":16,"t":-0.43,"y":-0.828},{"p":"c","c":"5m","s":"5m-c12","o":17,"t":-0.444,"y":-0.462},{"p":"c","c":"5m","s":"5m-c12","o":18,"t":-0.45,"y":0},{"p":"c","c":"5m","s":"5m-c12","o":19,"t":-0.444,"y":0.462},{"p":"c","c":"5m","s":"5m-c12","o":20,"t":-0.43,"y":0.828},{"p":"c","c":"5m","s":"5m-c12","o":21,"t":-0.41,"y":1.14},{"p":"c","c":"5m","s":"5m-c12","o":22,"t":-0.37,"y":1.52},{"p":"c","c":"5m","s":"5m-c12","o":23,"t":-0.31,"y":1.812},{"p":"c","c":"5m","s":"5m-c12","o":24,"t":-0.25,"y":1.9},
{"p":"c","c":"5m","s":"5m-c13","o":0,"t":0.25,"y":1.9},{"p":"c","c":"5m","s":"5m-c13","o":1,"t":0.31,"y":1.812},{"p":"c","c":"5m","s":"5m-c13","o":2,"t":0.37,"y":1.52},{"p":"c","c":"5m","s":"5m-c13","o":3,"t":0.41,"y":1.14},{"p":"c","c":"5m","s":"5m-c13","o":4,"t":0.43,"y":0.828},{"p":"c","c":"5m","s":"5m-c13","o":5,"t":0.444,"y":0.462},{"p":"c","c":"5m","s":"5m-c13","o":6,"t":0.45,"y":0},{"p":"c","c":"5m","s":"5m-c13","o":7,"t":0.444,"y":-0.462},{"p":"c","c":"5m","s":"5m-c13","o":8,"t":0.43,"y":-0.828},{"p":"c","c":"5m","s":"5m-c13","o":9,"t":0.41,"y":-1.14},{"p":"c","c":"5m","s":"5m-c13","o":10,"t":0.37,"y":-1.52},{"p":"c","c":"5m","s":"5m-c13","o":11,"t":0.31,"y":-1.812},{"p":"c","c":"5m","s":"5m-c13","o":12,"t":0.25,"y":-1.9},{"p":"c","c":"5m","s":"5m-c13","o":13,"t":0.19,"y":-1.812},{"p":"c","c":"5m","s":"5m-c13","o":14,"t":0.13,"y":-1.52},{"p":"c","c":"5m","s":"5m-c13","o":15,"t":0.09,"y":-1.14},{"p":"c","c":"5m","s":"5m-c13","o":16,"t":0.07,"y":-0.828},{"p":"c","c":"5m","s":"5m-c13","o":17,"t":0.056,"y":-0.462},{"p":"c","c":"5m","s":"5m-c13","o":18,"t":0.05,"y":0},{"p":"c","c":"5m","s":"5m-c13","o":19,"t":0.056,"y":0.462},{"p":"c","c":"5m","s":"5m-c13","o":20,"t":0.07,"y":0.828},{"p":"c","c":"5m","s":"5m-c13","o":21,"t":0.09,"y":1.14},{"p":"c","c":"5m","s":"5m-c13","o":22,"t":0.13,"y":1.52},{"p":"c","c":"5m","s":"5m-c13","o":23,"t":0.19,"y":1.812},{"p":"c","c":"5m","s":"5m-c13","o":24,"t":0.25,"y":1.9},
{"p":"c","c":"5m","s":"5m-c14","o":0,"t":-0.5,"y":0},{"p":"c","c":"5m","s":"5m-c14","o":1,"t":-0.45,"y":0},
{"p":"c","c":"5m","s":"5m-c15","o":0,"t":-0.05,"y":0},{"p":"c","c":"5m","s":"5m-c15","o":1,"t":0.05,"y":0},
{"p":"c","c":"5m","s":"5m-c16","o":0,"t":0.45,"y":0},{"p":"c","c":"5m","s":"5m-c16","o":1,"t":0.5,"y":0},

{"p":"d","c":"1k","s":"1k-d1","o":0,"t":-0.5,"y":-2},{"p":"d","c":"1k","s":"1k-d1","o":1,"t":-0.45,"y":-1.902},{"p":"d","c":"1k","s":"1k-d1","o":2,"t":-0.4,"y":-1.618},{"p":"d","c":"1k","s":"1k-d1","o":3,"t":-0.35,"y":-1.176},{"p":"d","c":"1k","s":"1k-d1","o":4,"t":-0.3,"y":-0.618},{"p":"d","c":"1k","s":"1k-d1","o":5,"t":-0.25,"y":0},{"p":"d","c":"1k","s":"1k-d1","o":6,"t":-0.2,"y":0.618},{"p":"d","c":"1k","s":"1k-d1","o":7,"t":-0.15,"y":1.176},{"p":"d","c":"1k","s":"1k-d1","o":8,"t":-0.1,"y":1.618},{"p":"d","c":"1k","s":"1k-d1","o":9,"t":-0.05,"y":1.902},{"p":"d","c":"1k","s":"1k-d1","o":10,"t":0,"y":2},{"p":"d","c":"1k","s":"1k-d1","o":11,"t":0.05,"y":1.902},{"p":"d","c":"1k","s":"1k-d1","o":12,"t":0.1,"y":1.618},{"p":"d","c":"1k","s":"1k-d1","o":13,"t":0.15,"y":1.176},{"p":"d","c":"1k","s":"1k-d1","o":14,"t":0.2,"y":0.618},{"p":"d","c":"1k","s":"1k-d1","o":15,"t":0.25,"y":0},{"p":"d","c":"1k","s":"1k-d1","o":16,"t":0.3,"y":-0.618},{"p":"d","c":"1k","s":"1k-d1","o":17,"t":0.35,"y":-1.176},{"p":"d","c":"1k","s":"1k-d1","o":18,"t":0.4,"y":-1.618},{"p":"d","c":"1k","s":"1k-d1","o":19,"t":0.45,"y":-1.902},{"p":"d","c":"1k","s":"1k-d1","o":20,"t":0.5,"y":-2},
{"p":"d","c":"2b","s":"2b-d2","o":0,"t":-0.5,"y":-1.073},{"p":"d","c":"2b","s":"2b-d2","o":1,"t":-0.45,"y":-0.728},{"p":"d","c":"2b","s":"2b-d2","o":2,"t":-0.4,"y":-0.312},{"p":"d","c":"2b","s":"2b-d2","o":3,"t":-0.35,"y":0.135},{"p":"d","c":"2b","s":"2b-d2","o":4,"t":-0.3,"y":0.568},{"p":"d","c":"2b","s":"2b-d2","o":5,"t":-0.25,"y":0.946},{"p":"d","c":"2b","s":"2b-d2","o":6,"t":-0.2,"y":1.231},{"p":"d","c":"2b","s":"2b-d2","o":7,"t":-0.15,"y":1.396},{"p":"d","c":"2b","s":"2b-d2","o":8,"t":-0.1,"y":1.424},{"p":"d","c":"2b","s":"2b-d2","o":9,"t":-0.05,"y":1.312},{"p":"d","c":"2b","s":"2b-d2","o":10,"t":0,"y":1.073},{"p":"d","c":"2b","s":"2b-d2","o":11,"t":0.05,"y":0.728},{"p":"d","c":"2b","s":"2b-d2","o":12,"t":0.1,"y":0.312},{"p":"d","c":"2b","s":"2b-d2","o":13,"t":0.15,"y":-0.135},{"p":"d","c":"2b","s":"2b-d2","o":14,"t":0.2,"y":-0.568},{"p":"d","c":"2b","s":"2b-d2","o":15,"t":0.25,"y":-0.946},{"p":"d","c":"2b","s":"2b-d2","o":16,"t":0.3,"y":-1.231},{"p":"d","c":"2b","s":"2b-d2","o":17,"t":0.35,"y":-1.396},{"p":"d","c":"2b","s":"2b-d2","o":18,"t":0.4,"y":-1.424},{"p":"d","c":"2b","s":"2b-d2","o":19,"t":0.45,"y":-1.312},{"p":"d","c":"2b","s":"2b-d2","o":20,"t":0.5,"y":-1.073},
{"p":"d","c":"3r","s":"3r-d3","o":0,"t":-0.5,"y":-0.413},{"p":"d","c":"3r","s":"3r-d3","o":1,"t":-0.45,"y":-0.142},{"p":"d","c":"3r","s":"3r-d3","o":2,"t":-0.4,"y":0.142},{"p":"d","c":"3r","s":"3r-d3","o":3,"t":-0.35,"y":0.413},{"p":"d","c":"3r","s":"3r-d3","o":4,"t":-0.3,"y":0.643},{"p":"d","c":"3r","s":"3r-d3","o":5,"t":-0.25,"y":0.811},{"p":"d","c":"3r","s":"3r-d3","o":6,"t":-0.2,"y":0.899},{"p":"d","c":"3r","s":"3r-d3","o":7,"t":-0.15,"y":0.899},{"p":"d","c":"3r","s":"3r-d3","o":8,"t":-0.1,"y":0.811},{"p":"d","c":"3r","s":"3r-d3","o":9,"t":-0.05,"y":0.643},{"p":"d","c":"3r","s":"3r-d3","o":10,"t":0,"y":0.413},{"p":"d","c":"3r","s":"3r-d3","o":11,"t":0.05,"y":0.142},{"p":"d","c":"3r","s":"3r-d3","o":12,"t":0.1,"y":-0.142},{"p":"d","c":"3r","s":"3r-d3","o":13,"t":0.15,"y":-0.413},{"p":"d","c":"3r","s":"3r-d3","o":14,"t":0.2,"y":-0.643},{"p":"d","c":"3r","s":"3r-d3","o":15,"t":0.25,"y":-0.811},{"p":"d","c":"3r","s":"3r-d3","o":16,"t":0.3,"y":-0.899},{"p":"d","c":"3r","s":"3r-d3","o":17,"t":0.35,"y":-0.899},{"p":"d","c":"3r","s":"3r-d3","o":18,"t":0.4,"y":-0.811},{"p":"d","c":"3r","s":"3r-d3","o":19,"t":0.45,"y":-0.643},{"p":"d","c":"3r","s":"3r-d3","o":20,"t":0.5,"y":-0.413},
{"p":"d","c":"4g","s":"4g-d4","o":0,"t":-0.43,"y":0.17},{"p":"d","c":"4g","s":"4g-d4","o":1,"t":-0.4,"y":0.23},{"p":"d","c":"4g","s":"4g-d4","o":2,"t":-0.36,"y":0.28},{"p":"d","c":"4g","s":"4g-d4","o":3,"t":-0.3,"y":0.315},{"p":"d","c":"4g","s":"4g-d4","o":4,"t":-0.23,"y":0.325},{"p":"d","c":"4g","s":"4g-d4","o":5,"t":-0.16,"y":0.31},{"p":"d","c":"4g","s":"4g-d4","o":6,"t":-0.1,"y":0.27},{"p":"d","c":"4g","s":"4g-d4","o":7,"t":-0.06,"y":0.22},{"p":"d","c":"4g","s":"4g-d4","o":8,"t":-0.03,"y":0.15},
{"p":"d","c":"4g","s":"4g-d5","o":0,"t":0.07,"y":-0.17},{"p":"d","c":"4g","s":"4g-d5","o":1,"t":0.1,"y":-0.23},{"p":"d","c":"4g","s":"4g-d5","o":2,"t":0.14,"y":-0.28},{"p":"d","c":"4g","s":"4g-d5","o":3,"t":0.2,"y":-0.315},{"p":"d","c":"4g","s":"4g-d5","o":4,"t":0.27,"y":-0.325},{"p":"d","c":"4g","s":"4g-d5","o":5,"t":0.34,"y":-0.31},{"p":"d","c":"4g","s":"4g-d5","o":6,"t":0.4,"y":-0.27},{"p":"d","c":"4g","s":"4g-d5","o":7,"t":0.44,"y":-0.22},{"p":"d","c":"4g","s":"4g-d5","o":8,"t":0.47,"y":-0.15},
{"p":"d","c":"4g","s":"4g-d6","o":0,"t":0.02,"y":0.54},{"p":"d","c":"4g","s":"4g-d6","o":1,"t":0.0329,"y":0.48},{"p":"d","c":"4g","s":"4g-d6","o":2,"t":0.045,"y":0.386},{"p":"d","c":"4g","s":"4g-d6","o":3,"t":0.0554,"y":0.266},{"p":"d","c":"4g","s":"4g-d6","o":4,"t":0.0636,"y":0.125},{"p":"d","c":"4g","s":"4g-d6","o":5,"t":0.0688,"y":-0.024},{"p":"d","c":"4g","s":"4g-d6","o":6,"t":0.07,"y":-0.17},{"p":"d","c":"4g","s":"4g-d6","o":7,"t":0.0688,"y":-0.308},{"p":"d","c":"4g","s":"4g-d6","o":8,"t":0.0636,"y":-0.425},{"p":"d","c":"4g","s":"4g-d6","o":9,"t":0.0554,"y":-0.512},{"p":"d","c":"4g","s":"4g-d6","o":10,"t":0.045,"y":-0.566},{"p":"d","c":"4g","s":"4g-d6","o":11,"t":0.0329,"y":-0.582},{"p":"d","c":"4g","s":"4g-d6","o":12,"t":0.02,"y":-0.56},{"p":"d","c":"4g","s":"4g-d6","o":13,"t":0.0071,"y":-0.5},{"p":"d","c":"4g","s":"4g-d6","o":14,"t":-0.005,"y":-0.406},{"p":"d","c":"4g","s":"4g-d6","o":15,"t":-0.0154,"y":-0.286},{"p":"d","c":"4g","s":"4g-d6","o":16,"t":-0.0236,"y":-0.145},{"p":"d","c":"4g","s":"4g-d6","o":17,"t":-0.0288,"y":0.004},{"p":"d","c":"4g","s":"4g-d6","o":18,"t":-0.03,"y":0.15},{"p":"d","c":"4g","s":"4g-d6","o":19,"t":-0.0288,"y":0.288},{"p":"d","c":"4g","s":"4g-d6","o":20,"t":-0.0236,"y":0.405},{"p":"d","c":"4g","s":"4g-d6","o":21,"t":-0.0154,"y":0.492},{"p":"d","c":"4g","s":"4g-d6","o":22,"t":-0.005,"y":0.546},{"p":"d","c":"4g","s":"4g-d6","o":23,"t":0.0071,"y":0.562},{"p":"d","c":"4g","s":"4g-d6","o":24,"t":0.02,"y":0.54},
{"p":"d","c":"4g","s":"4g-d7","o":0,"t":0.5,"y":0.445},{"p":"d","c":"4g","s":"4g-d7","o":1,"t":0.495,"y":0.406},{"p":"d","c":"4g","s":"4g-d7","o":2,"t":0.4846,"y":0.286},{"p":"d","c":"4g","s":"4g-d7","o":3,"t":0.4764,"y":0.145},{"p":"d","c":"4g","s":"4g-d7","o":4,"t":0.4712,"y":-0.004},{"p":"d","c":"4g","s":"4g-d7","o":5,"t":0.47,"y":-0.15},{"p":"d","c":"4g","s":"4g-d7","o":6,"t":0.4712,"y":-0.288},{"p":"d","c":"4g","s":"4g-d7","o":7,"t":0.4764,"y":-0.405},{"p":"d","c":"4g","s":"4g-d7","o":8,"t":0.4846,"y":-0.492},{"p":"d","c":"4g","s":"4g-d7","o":9,"t":0.495,"y":-0.546},{"p":"d","c":"4g","s":"4g-d7","o":10,"t":0.5,"y":-0.553},
{"p":"d","c":"4g","s":"4g-d8","o":0,"t":-0.5,"y":-0.553},{"p":"d","c":"4g","s":"4g-d8","o":1,"t":-0.4929,"y":-0.562},{"p":"d","c":"4g","s":"4g-d8","o":2,"t":-0.48,"y":-0.54},{"p":"d","c":"4g","s":"4g-d8","o":3,"t":-0.4671,"y":-0.48},{"p":"d","c":"4g","s":"4g-d8","o":4,"t":-0.455,"y":-0.386},{"p":"d","c":"4g","s":"4g-d8","o":5,"t":-0.4446,"y":-0.266},{"p":"d","c":"4g","s":"4g-d8","o":6,"t":-0.4364,"y":-0.125},{"p":"d","c":"4g","s":"4g-d8","o":7,"t":-0.4312,"y":0.024},{"p":"d","c":"4g","s":"4g-d8","o":8,"t":-0.43,"y":0.17},{"p":"d","c":"4g","s":"4g-d8","o":9,"t":-0.4312,"y":0.308},{"p":"d","c":"4g","s":"4g-d8","o":10,"t":-0.4364,"y":0.425},{"p":"d","c":"4g","s":"4g-d8","o":11,"t":-0.4446,"y":0.512},{"p":"d","c":"4g","s":"4g-d8","o":12,"t":-0.455,"y":0.566},{"p":"d","c":"4g","s":"4g-d8","o":13,"t":-0.4671,"y":0.582},{"p":"d","c":"4g","s":"4g-d8","o":14,"t":-0.48,"y":0.56},{"p":"d","c":"4g","s":"4g-d8","o":15,"t":-0.4929,"y":0.5},{"p":"d","c":"4g","s":"4g-d8","o":16,"t":-0.5,"y":0.445},
{"p":"d","c":"5m","s":"5m-d9","o":0,"t":-0.45,"y":0},{"p":"d","c":"5m","s":"5m-d9","o":1,"t":-0.05,"y":0},
{"p":"d","c":"5m","s":"5m-d10","o":0,"t":0.05,"y":0},{"p":"d","c":"5m","s":"5m-d10","o":1,"t":0.45,"y":0},
{"p":"d","c":"5m","s":"5m-d11","o":0,"t":0,"y":0.625},{"p":"d","c":"5m","s":"5m-d11","o":1,"t":0.0129,"y":0.603},{"p":"d","c":"5m","s":"5m-d11","o":2,"t":0.025,"y":0.541},{"p":"d","c":"5m","s":"5m-d11","o":3,"t":0.0354,"y":0.442},{"p":"d","c":"5m","s":"5m-d11","o":4,"t":0.0436,"y":0.312},{"p":"d","c":"5m","s":"5m-d11","o":5,"t":0.0488,"y":0.162},{"p":"d","c":"5m","s":"5m-d11","o":6,"t":0.05,"y":0},{"p":"d","c":"5m","s":"5m-d11","o":7,"t":0.0488,"y":-0.162},{"p":"d","c":"5m","s":"5m-d11","o":8,"t":0.0436,"y":-0.312},{"p":"d","c":"5m","s":"5m-d11","o":9,"t":0.0354,"y":-0.442},{"p":"d","c":"5m","s":"5m-d11","o":10,"t":0.025,"y":-0.541},{"p":"d","c":"5m","s":"5m-d11","o":11,"t":0.0129,"y":-0.603},{"p":"d","c":"5m","s":"5m-d11","o":12,"t":0,"y":-0.625},{"p":"d","c":"5m","s":"5m-d11","o":13,"t":-0.0129,"y":-0.603},{"p":"d","c":"5m","s":"5m-d11","o":14,"t":-0.025,"y":-0.541},{"p":"d","c":"5m","s":"5m-d11","o":15,"t":-0.0354,"y":-0.442},{"p":"d","c":"5m","s":"5m-d11","o":16,"t":-0.0436,"y":-0.312},{"p":"d","c":"5m","s":"5m-d11","o":17,"t":-0.0488,"y":-0.162},{"p":"d","c":"5m","s":"5m-d11","o":18,"t":-0.05,"y":0},{"p":"d","c":"5m","s":"5m-d11","o":19,"t":-0.0488,"y":0.162},{"p":"d","c":"5m","s":"5m-d11","o":20,"t":-0.0436,"y":0.312},{"p":"d","c":"5m","s":"5m-d11","o":21,"t":-0.0354,"y":0.442},{"p":"d","c":"5m","s":"5m-d11","o":22,"t":-0.025,"y":0.541},{"p":"d","c":"5m","s":"5m-d11","o":23,"t":-0.0129,"y":0.603},{"p":"d","c":"5m","s":"5m-d11","o":24,"t":0,"y":0.625},
{"p":"d","c":"5m","s":"5m-d12","o":0,"t":0.5,"y":0.625},{"p":"d","c":"5m","s":"5m-d12","o":1,"t":0.4871,"y":0.603},{"p":"d","c":"5m","s":"5m-d12","o":2,"t":0.475,"y":0.541},{"p":"d","c":"5m","s":"5m-d12","o":3,"t":0.4646,"y":0.442},{"p":"d","c":"5m","s":"5m-d12","o":4,"t":0.4564,"y":0.312},{"p":"d","c":"5m","s":"5m-d12","o":5,"t":0.4512,"y":0.162},{"p":"d","c":"5m","s":"5m-d12","o":6,"t":0.45,"y":0},{"p":"d","c":"5m","s":"5m-d12","o":7,"t":0.4512,"y":-0.162},{"p":"d","c":"5m","s":"5m-d12","o":8,"t":0.4564,"y":-0.312},{"p":"d","c":"5m","s":"5m-d12","o":9,"t":0.4646,"y":-0.442},{"p":"d","c":"5m","s":"5m-d12","o":10,"t":0.475,"y":-0.541},{"p":"d","c":"5m","s":"5m-d12","o":11,"t":0.4871,"y":-0.603},{"p":"d","c":"5m","s":"5m-d12","o":12,"t":0.5,"y":-0.625},
{"p":"d","c":"5m","s":"5m-d13","o":0,"t":-0.5,"y":0.625},{"p":"d","c":"5m","s":"5m-d13","o":1,"t":-0.4871,"y":0.603},{"p":"d","c":"5m","s":"5m-d13","o":2,"t":-0.475,"y":0.541},{"p":"d","c":"5m","s":"5m-d13","o":3,"t":-0.4646,"y":0.442},{"p":"d","c":"5m","s":"5m-d13","o":4,"t":-0.4564,"y":0.312},{"p":"d","c":"5m","s":"5m-d13","o":5,"t":-0.4512,"y":0.162},{"p":"d","c":"5m","s":"5m-d13","o":6,"t":-0.45,"y":0},{"p":"d","c":"5m","s":"5m-d13","o":7,"t":-0.4512,"y":-0.162},{"p":"d","c":"5m","s":"5m-d13","o":8,"t":-0.4564,"y":-0.312},{"p":"d","c":"5m","s":"5m-d13","o":9,"t":-0.4646,"y":-0.442},{"p":"d","c":"5m","s":"5m-d13","o":10,"t":-0.475,"y":-0.541},{"p":"d","c":"5m","s":"5m-d13","o":11,"t":-0.4871,"y":-0.603},{"p":"d","c":"5m","s":"5m-d13","o":12,"t":-0.5,"y":-0.625}
]},
"concat": [
 {"width": 182, "height": 137,
  "title": {"text": "(a)", "anchor": "start", "frame": "group", "dx": -50, "offset": -15, "font": "Liberation Serif", "fontSize": 18, "fontWeight": "normal", "color": "#111"},
  "data": {"name": "d"}, "transform": [{"filter": "datum.p=='a'"}],
  "mark": {"type": "line", "interpolate": "catmull-rom", "strokeWidth": 1.5},
  "encoding": {
   "x": {"field": "t", "type": "quantitative", "scale": {"domain": [-0.5, 0.5], "nice": false, "zero": false}, "axis": {"values": [-0.5, -0.25, 0, 0.25, 0.5], "labelExpr": "datum.value==-0.5?'-0.5':datum.value==0?'0.0':datum.value==0.5?'0.5':''", "title": "t (Tᵣ)", "titleFont": "Liberation Serif", "titleFontStyle": "italic", "titlePadding": 1}},
   "y": {"field": "y", "type": "quantitative", "scale": {"domain": [-2.1, 2.1], "nice": false, "zero": false}, "axis": {"values": [-2, -1.5, -1, -0.5, 0, 0.5, 1, 1.5, 2], "labelExpr": "datum.value==2?'2':datum.value==1?'1':datum.value==0?'0':datum.value==-1?'-1':datum.value==-2?'-2':''", "title": "Reλ (κ)", "titleFont": "Liberation Sans", "titlePadding": 2}},
   "color": {"field": "c", "type": "nominal", "scale": {"domain": ["1k", "2b", "3r", "4g", "5m"], "range": ["#000000", "#1414e6", "#e61e1e", "#3ce63c", "#f03cf0"]}, "legend": null},
   "detail": {"field": "s"},
   "order": {"field": "o", "type": "quantitative"}
  }},
 {"width": 182, "height": 137,
  "title": {"text": "(b)", "anchor": "start", "frame": "group", "dx": -49, "offset": -15, "font": "Liberation Serif", "fontSize": 18, "fontWeight": "normal", "color": "#111"},
  "data": {"name": "d"}, "transform": [{"filter": "datum.p=='b'"}],
  "mark": {"type": "line", "interpolate": "catmull-rom", "strokeWidth": 1.5},
  "encoding": {
   "x": {"field": "t", "type": "quantitative", "scale": {"domain": [-0.5, 0.5], "nice": false, "zero": false}, "axis": {"values": [-0.5, -0.25, 0, 0.25, 0.5], "labelExpr": "datum.value==-0.5?'-0.5':datum.value==0?'0.0':datum.value==0.5?'0.5':''", "title": "t (Tᵣ)", "titleFont": "Liberation Serif", "titleFontStyle": "italic", "titlePadding": 1}},
   "y": {"field": "y", "type": "quantitative", "scale": {"domain": [-2.1, 2.1], "nice": false, "zero": false}, "axis": {"values": [-2, -1.5, -1, -0.5, 0, 0.5, 1, 1.5, 2], "labelExpr": "datum.value==2?'2':datum.value==1?'1':datum.value==0?'0':datum.value==-1?'-1':datum.value==-2?'-2':''", "title": "Imλ (κ)", "titleFont": "Liberation Sans", "titlePadding": 2}},
   "color": {"field": "c", "type": "nominal", "scale": {"domain": ["1k", "2b", "3r", "4g", "5m"], "range": ["#000000", "#1414e6", "#e61e1e", "#3ce63c", "#f03cf0"]}, "legend": null},
   "detail": {"field": "s"},
   "order": {"field": "o", "type": "quantitative"}
  }},
 {"width": 182, "height": 137,
  "title": {"text": "(c)", "anchor": "start", "frame": "group", "dx": -50, "offset": -15, "font": "Liberation Serif", "fontSize": 18, "fontWeight": "normal", "color": "#111"},
  "data": {"name": "d"}, "transform": [{"filter": "datum.p=='c'"}],
  "mark": {"type": "line", "interpolate": "catmull-rom", "strokeWidth": 1.5},
  "encoding": {
   "x": {"field": "t", "type": "quantitative", "scale": {"domain": [-0.5, 0.5], "nice": false, "zero": false}, "axis": {"values": [-0.5, -0.25, 0, 0.25, 0.5], "labelExpr": "datum.value==-0.5?'-0.5':datum.value==0?'0.0':datum.value==0.5?'0.5':''", "title": "t (Tᵣ)", "titleFont": "Liberation Serif", "titleFontStyle": "italic", "titlePadding": 1}},
   "y": {"field": "y", "type": "quantitative", "scale": {"domain": [-2.1, 2.1], "nice": false, "zero": false}, "axis": {"values": [-2, -1.5, -1, -0.5, 0, 0.5, 1, 1.5, 2], "labelExpr": "datum.value==2?'2':datum.value==1?'1':datum.value==0?'0':datum.value==-1?'-1':datum.value==-2?'-2':''", "title": "Reλ (κ)", "titleFont": "Liberation Sans", "titlePadding": 2}},
   "color": {"field": "c", "type": "nominal", "scale": {"domain": ["1k", "2b", "3r", "4g", "5m"], "range": ["#000000", "#1414e6", "#e61e1e", "#3ce63c", "#f03cf0"]}, "legend": null},
   "detail": {"field": "s"},
   "order": {"field": "o", "type": "quantitative"}
  }},
 {"width": 182, "height": 137,
  "title": {"text": "(d)", "anchor": "start", "frame": "group", "dx": -49, "offset": -15, "font": "Liberation Serif", "fontSize": 18, "fontWeight": "normal", "color": "#111"},
  "data": {"name": "d"}, "transform": [{"filter": "datum.p=='d'"}],
  "mark": {"type": "line", "interpolate": "catmull-rom", "strokeWidth": 1.5},
  "encoding": {
   "x": {"field": "t", "type": "quantitative", "scale": {"domain": [-0.5, 0.5], "nice": false, "zero": false}, "axis": {"values": [-0.5, -0.25, 0, 0.25, 0.5], "labelExpr": "datum.value==-0.5?'-0.5':datum.value==0?'0.0':datum.value==0.5?'0.5':''", "title": "t (Tᵣ)", "titleFont": "Liberation Serif", "titleFontStyle": "italic", "titlePadding": 1}},
   "y": {"field": "y", "type": "quantitative", "scale": {"domain": [-2.1, 2.1], "nice": false, "zero": false}, "axis": {"values": [-2, -1.5, -1, -0.5, 0, 0.5, 1, 1.5, 2], "labelExpr": "datum.value==2?'2':datum.value==1?'1':datum.value==0?'0':datum.value==-1?'-1':datum.value==-2?'-2':''", "title": "Imλ (κ)", "titleFont": "Liberation Sans", "titlePadding": 2}},
   "color": {"field": "c", "type": "nominal", "scale": {"domain": ["1k", "2b", "3r", "4g", "5m"], "range": ["#000000", "#1414e6", "#e61e1e", "#3ce63c", "#f03cf0"]}, "legend": null},
   "detail": {"field": "s"},
   "order": {"field": "o", "type": "quantitative"}
  }}
]
}
